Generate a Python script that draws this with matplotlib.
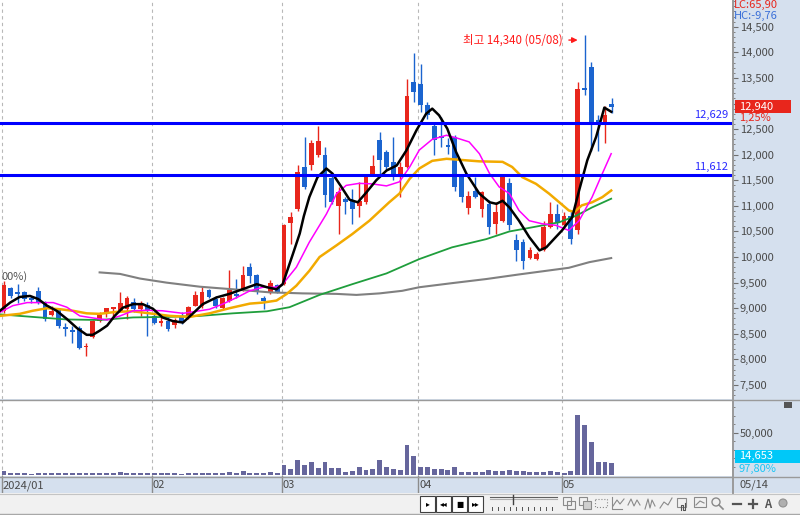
import matplotlib
matplotlib.use('Agg')
import matplotlib.pyplot as plt
import matplotlib.transforms as mtransforms
from matplotlib.patches import Rectangle, Circle
from matplotlib.ticker import FixedLocator, MultipleLocator, FuncFormatter
import numpy as np

plt.rcParams['font.family'] = ['Noto Sans CJK KR', 'DejaVu Sans']

# daily candles 2024-01-02 .. 2024-05-14
month_labels = ['2024/01', '02', '03', '04', '05']
month_days = [22, 19, 20, 21, 8]
last_date = '05/14'

opens = [8950, 9390, 9320, 9310, 9200, 9330, 9110, 8870, 8980, 8640, 8570, 8620, 8240, 8430, 8750, 8890,
         8990, 8950, 8980, 9130, 8980, 9070,
         8850, 8720, 8750, 8680, 8820, 8800, 9050, 9050, 9360, 9180, 9000, 9150, 9270, 9370, 9810, 9640,
         9190, 9300, 9460,
         9470, 10660, 10940, 11760, 11800, 11990, 11990, 11540, 11000, 11140, 11090, 10990, 11070, 11630,
         12280, 12050, 11860, 11560, 11760, 13420,
         13390, 12970, 12570, 12370, 12180, 12350, 11590, 10950, 11300, 10940, 11040, 10650, 10710, 11440,
         10330, 10290, 9990, 9960, 10130, 10580, 10840,
         10630, 10810, 10520, 13300, 13720, 12670, 12640, 13000]
highs = [9540, 9420, 9470, 9340, 9240, 9420, 9150, 9050, 9010, 8720, 8650, 8660, 8330, 8760, 8920, 9000,
         9020, 9310, 9240, 9200, 9140, 9120,
         8920, 8820, 8820, 8800, 8920, 9050, 9330, 9440, 9380, 9240, 9210, 9750, 9570, 9820, 9880, 9660,
         9240, 9560, 9470,
         10640, 10880, 11790, 12340, 12280, 12570, 12150, 11580, 11360, 11170, 11330, 11470, 11600, 11990,
         12440, 12100, 12350, 11860, 13470, 13980,
         13780, 13030, 12640, 12740, 12320, 12380, 11620, 11300, 11560, 11300, 11110, 11070, 11590, 11540,
         10450, 10350, 10190, 10100, 10710, 11070, 11040,
         10880, 10910, 13420, 14340, 13820, 12770, 12950, 13110]
lows = [8900, 9200, 9110, 9150, 9110, 9080, 8750, 8850, 8620, 8460, 8330, 8200, 8060, 8410, 8730, 8820,
        8790, 8920, 8790, 8920, 8850, 8460,
        8690, 8660, 8560, 8610, 8690, 8790, 9040, 9010, 9200, 9010, 8980, 9120, 9200, 9340, 9500, 9270,
        8980, 9280, 9290,
        9460, 10260, 10900, 11330, 11700, 11950, 10970, 11030, 10460, 10850, 10650, 10780, 11040, 11600,
        11630, 11700, 11500, 11180, 11740, 13030,
        12840, 12700, 11990, 12150, 12020, 11300, 11070, 10840, 11150, 10780, 10450, 10450, 10690, 10520,
        9930, 9770, 9970, 9950, 10110, 10560, 10550,
        10610, 10260, 10450, 13160, 12080, 12080, 12220, 12820]
closes = [9460, 9240, 9270, 9180, 9160, 9110, 8790, 8950, 8660, 8590, 8540, 8220, 8260, 8750, 8870, 9000,
          9000, 9110, 9200, 8980, 9080, 8950,
          8720, 8750, 8590, 8770, 8720, 9030, 9260, 9310, 9220, 9050, 9190, 9360, 9240, 9640, 9620, 9310,
          9150, 9490, 9310,
          10630, 10780, 11660, 11370, 12220, 12270, 11210, 11070, 11280, 11070, 10940, 11100, 11560, 11770,
          11890, 11760, 11560, 11760, 13140, 13230,
          12970, 12770, 12280, 12330, 12150, 11370, 11180, 11200, 11170, 11270, 10580, 10880, 11560, 10630,
          10130, 9930, 10130, 10060, 10580, 10840, 10680,
          10810, 10350, 13290, 13260, 12610, 12600, 12780, 12940]
volumes = [4700, 2400, 2300, 2200, 1100, 2300, 2400, 2300, 2200, 2300, 2400, 2300, 2200, 2300, 2400, 2300,
           2200, 3500, 2400, 2300, 2200, 2300,
           2300, 2200, 2300, 2400, 1000, 2300, 2200, 2300, 2400, 2300, 2200, 3500, 2300, 4700, 2900, 2900,
           2300, 3500, 2400,
           11800, 7100, 17700, 11800, 15400, 8300, 15400, 8300, 8300, 3900, 4700, 9500, 5900, 7100, 17700,
           9500, 7100, 5900, 35500, 22500,
           9500, 9500, 7400, 7100, 5900, 9500, 3500, 3500, 3500, 3500, 5900, 5100, 5100, 5900, 5100, 4700,
           3500, 3500, 3900, 4700, 3900,
           2700, 4700, 70900, 59100, 39000, 15700, 14983, 14653]

# moving averages (candle index, price)
ma5_pos = [-0.6, 0.9, 2.3, 3.8, 5.0, 6.3, 7.7, 9.2, 10.7, 12.1, 13.0, 14.0, 15.1, 16.2, 17.4, 18.9, 20.3,
           21.8, 23.2, 24.7, 26.2, 27.6, 29.1, 31.1, 33.0, 34.9, 37.0, 38.5, 39.9, 40.8, 42.3, 43.3, 43.9,
           44.7, 45.9, 47.2, 48.1, 49.4, 50.6, 51.8, 53.1, 54.5, 56.0, 57.5, 58.9, 60.4, 61.8, 62.7, 63.7,
           64.9, 66.2, 67.7, 69.6, 71.1, 72.1, 73.0, 74.0, 75.4, 76.9, 78.4, 79.4, 80.3, 81.7, 83.2, 84.2,
           85.4, 86.7, 87.9, 88.9]
ma5_val = [8950, 9110, 9220, 9240, 9180, 9050, 8950, 8790, 8610, 8480, 8480, 8560, 8660, 8850, 9010, 9080,
           9080, 8990, 8820, 8750, 8720, 8890, 9080, 9210, 9280, 9370, 9470, 9410, 9370, 9470, 10060, 10460,
           10800, 11170, 11560, 11730, 11630, 11370, 11120, 11070, 11270, 11500, 11690, 11790, 12080, 12480,
           12800, 12900, 12770, 12510, 12050, 11630, 11240, 11070, 11040, 11100, 10970, 10710, 10390, 10130,
           10190, 10320, 10520, 10780, 11300, 11890, 12350, 12920, 12840]
ma10_pos = [-0.6, 1.3, 3.4, 5.3, 7.2, 9.2, 11.1, 13.0, 15.1, 17.0, 18.9, 20.9, 23.2, 26.2, 28.2, 30.1,
            32.0, 34.1, 36.0, 37.9, 39.9, 40.8, 42.8, 44.7, 47.2, 48.7, 50.1, 52.0, 53.9, 56.0, 57.9, 59.4,
            60.8, 62.7, 64.8, 66.2, 68.1, 69.6, 71.1, 72.5, 74.0, 75.4, 76.9, 78.8, 80.8, 82.7, 84.2, 86.1,
            87.6, 88.9]
ma10_val = [8920, 9050, 9110, 9110, 9110, 9020, 8850, 8810, 8770, 8850, 8950, 8960, 8950, 8900, 8940, 8980,
            9080, 9210, 9340, 9410, 9410, 9470, 9800, 10290, 10840, 11240, 11400, 11440, 11430, 11390, 11470,
            11760, 12090, 12300, 12380, 12330, 12250, 12020, 11630, 11370, 11240, 10910, 10710, 10650, 10620,
            10520, 10710, 11170, 11630, 12020]
ma20_pos = [-0.6, 2.3, 4.2, 6.3, 8.2, 10.1, 12.1, 14.0, 16.5, 18.9, 21.3, 24.3, 27.2, 30.1, 33.0, 36.0,
            37.9, 39.9, 41.4, 42.8, 44.7, 46.2, 48.7, 51.0, 53.5, 56.4, 57.9, 59.4, 60.8, 62.7, 64.8, 66.7,
            69.6, 73.0, 74.4, 75.9, 77.9, 79.8, 81.3, 82.7, 83.5, 84.6, 86.1, 87.6, 88.9]
ma20_val = [8850, 8890, 8950, 9000, 8980, 8950, 8900, 8890, 8930, 8940, 8900, 8850, 8830, 8900, 9000, 9090,
            9110, 9150, 9280, 9440, 9730, 10000, 10230, 10450, 10710, 11070, 11240, 11530, 11730, 11880,
            11920, 11900, 11870, 11860, 11760, 11560, 11430, 11240, 11070, 10910, 10880, 11010, 11070,
            11170, 11300]
ma60_pos = [-0.6, 4.2, 9.2, 14.0, 18.9, 23.8, 28.7, 33.5, 38.5, 41.8, 46.2, 51.0, 56.0, 60.8, 65.6, 70.6,
            74.0, 76.9, 81.3, 83.8, 86.1, 88.9]
ma60_val = [8880, 8830, 8780, 8770, 8820, 8830, 8850, 8900, 8940, 9020, 9260, 9470, 9680, 9960, 10190,
            10350, 10500, 10570, 10680, 10810, 10970, 11140]
ma120_pos = [14.0, 17.0, 19.9, 23.8, 28.7, 33.5, 38.9, 43.7, 48.7, 51.6, 55.0, 58.3, 60.8, 65.6, 70.6,
             75.4, 82.7, 85.7, 88.9]
ma120_val = [9700, 9670, 9580, 9500, 9420, 9370, 9310, 9290, 9280, 9260, 9290, 9340, 9410, 9490, 9570,
             9660, 9790, 9900, 9980]

levels = [12629, 11612]
lc_text = 'LC:65,90'

W, H = 800, 515
fig = plt.figure(figsize=(8, 5.15), dpi=100)
fig.patch.set_facecolor('#d5e0ee')


def px_axes(x0, y0, x1, y1):
    return fig.add_axes([x0 / W, 1 - y1 / H, (x1 - x0) / W, (y1 - y0) / H])


RED = '#e8261c'
BLUE = '#1b64cf'
STEP = 6.83
XMIN = -4 / STEP
XMAX = XMIN + 732 / STEP

n = len(closes)
idx = np.arange(n)
o = np.array(opens)
c = np.array(closes)
cols = [RED if c[i] >= o[i] else BLUE for i in range(n)]
month_starts = np.cumsum([0] + month_days[:-1])
month_lines = month_starts - 0.35
last = closes[-1]

# ---- price panel
ax = px_axes(0, 0, 732, 399)
ax.set_facecolor('white')
ax.set_xlim(XMIN, XMAX)
ax.set_ylim(7226, 15023)
for s in ax.spines.values():
    s.set_visible(False)
ax.set_xticks([])
ax.yaxis.tick_right()
ax.yaxis.set_major_locator(FixedLocator(range(7500, 15000, 500)))
ax.yaxis.set_minor_locator(MultipleLocator(100))
# the label under the current-price box is hidden, as on the terminal
ax.yaxis.set_major_formatter(FuncFormatter(lambda v, p: '' if abs(v - last) < 200 else f'{int(v):,}'))
ax.tick_params(axis='y', which='major', direction='out', length=4.5, width=0.8, color='#707070',
               labelsize=8, labelcolor='#4a4a4a', pad=1)
ax.tick_params(axis='y', which='minor', direction='out', length=2.2, width=0.7, color='#808080')

for m in month_lines:
    ax.axvline(m, color='#b8b8b8', lw=0.8, ls=(0, (3, 3)), zorder=0)

body_lo = np.minimum(o, c)
body_h = np.maximum(np.abs(c - o), 25)
ax.vlines(idx, lows, highs, colors=cols, lw=1.0, zorder=2)
ax.bar(idx, body_h, bottom=body_lo, width=0.7, color=cols, lw=0, zorder=2)

ax.plot(ma120_pos, ma120_val, color='#808080', lw=1.5, zorder=3)
ax.plot(ma60_pos, ma60_val, color='#1f9e3c', lw=1.3, zorder=3)
ax.plot(ma20_pos, ma20_val, color='#f2aa00', lw=1.8, zorder=3)
ax.plot(ma10_pos, ma10_val, color='#ff00ff', lw=1.1, zorder=3)
ax.plot(ma5_pos, ma5_val, color='black', lw=1.8, zorder=3)

for lv in levels:
    ax.axhline(lv, color='#0000ff', lw=2.2, zorder=4)
    ax.annotate(f'{lv:,}', xy=(0.995, lv), xycoords=('axes fraction', 'data'), xytext=(0, 8),
                textcoords='offset pixels', ha='right', va='center', fontsize=8, color='#2a2aff')

ax.text(0.002, 9620, '00%)', transform=mtransforms.blended_transform_factory(ax.transAxes, ax.transData),
        fontsize=8, color='#555555', va='center', ha='left')

hi = int(np.argmax(highs))
ax.annotate('', xy=(hi - 0.6, highs[hi] - 100), xytext=(hi - 2.7, highs[hi] - 100),
            arrowprops=dict(arrowstyle='-|>', color='#ff1a1a', lw=1.0, mutation_scale=8))
ax.text(hi - 3.2, highs[hi] - 100, f'최고 {highs[hi]:,} ({month_labels[-1]}/08)', color='#ff1a1a',
        fontsize=8.3, ha='right', va='center')

blend = mtransforms.blended_transform_factory(ax.transAxes, ax.transData)
ax.add_patch(Rectangle((1.004, last - 127), 0.077, 254, transform=blend, clip_on=False,
                       fc=RED, ec='none', zorder=6))
ax.text(1.009, last, f'{last:,}', transform=blend, color='white', fontsize=8, va='center',
        ha='left', zorder=7, clip_on=False)
chg = (closes[-1] / closes[-2] - 1) * 100
ax.annotate(f'{chg:.2f}%'.replace('.', ','), xy=(1.009, last), xycoords=blend, xytext=(0, -11),
            textcoords='offset pixels', color=RED, fontsize=8, va='center', ha='left', zorder=7,
            annotation_clip=False)
hc = (closes[-1] / max(highs) - 1) * 100
ax.text(1.002, 1.0, lc_text, transform=ax.transAxes, color=RED, fontsize=8, va='top', ha='left',
        clip_on=False, zorder=7)
ax.text(1.002, 0.972, f'HC:{hc:.2f}'.replace('.', ','), transform=ax.transAxes, color='#3a6fd8',
        fontsize=8, va='top', ha='left', clip_on=False, zorder=7)

# ---- volume panel
axv = px_axes(0, 400, 732, 476)
axv.set_facecolor('white')
axv.set_xlim(XMIN, XMAX)
axv.set_ylim(-1200, 88700)
for s in axv.spines.values():
    s.set_visible(False)
axv.set_xticks([])
axv.yaxis.tick_right()
axv.yaxis.set_major_locator(FixedLocator([50000]))
axv.yaxis.set_minor_locator(FixedLocator([10000, 20000, 30000, 40000, 60000, 70000, 80000]))
axv.yaxis.set_major_formatter(FuncFormatter(lambda v, p: f'{int(v):,}'))
axv.tick_params(axis='y', which='major', direction='out', length=4.5, width=0.8, color='#707070',
                labelsize=8, labelcolor='#4a4a4a', pad=1)
axv.tick_params(axis='y', which='minor', direction='out', length=2.2, width=0.7, color='#808080')
for m in month_lines:
    axv.axvline(m, color='#b8b8b8', lw=0.8, ls=(0, (3, 3)), zorder=0)
axv.bar(idx, volumes, width=0.72, color='#66669c', lw=0, zorder=2)

vblend = mtransforms.blended_transform_factory(axv.transAxes, axv.transData)
lastv = volumes[-1]
axv.add_patch(Rectangle((1.004, lastv), 0.09, 15000, transform=vblend, clip_on=False,
                        fc='#00c8f8', ec='none', zorder=6))
axv.annotate(f'{lastv:,}', xy=(1.009, lastv), xycoords=vblend, xytext=(0, 6.5),
             textcoords='offset pixels', color='white', fontsize=8, va='center', ha='left', zorder=7,
             annotation_clip=False)
vchg = volumes[-1] / volumes[-2] * 100
axv.annotate(f'{vchg:.2f}%'.replace('.', ','), xy=(1.009, lastv), xycoords=vblend, xytext=(0, -6),
             textcoords='offset pixels', color='#19c6f5', fontsize=8, va='center', ha='left', zorder=7,
             annotation_clip=False)

# ---- date bar
axd = px_axes(0, 476, 732, 493)
axd.set_xlim(XMIN, XMAX)
axd.set_ylim(0, 1)
axd.axis('off')
for m, lab in zip(month_lines, month_labels):
    axd.axvline(m, color='#8c8c8c', lw=1.0)
    axd.text(m + 0.15, 0.45, lab, fontsize=8, color='#4a4a4a', va='center', ha='left')

# ---- chrome overlay (pixel coordinates)
ov = fig.add_axes([0, 0, 1, 1], zorder=10)
ov.set_xlim(0, W)
ov.set_ylim(H, 0)
ov.axis('off')
ov.patch.set_alpha(0)
ov.plot([0, W], [399.5, 399.5], color='#9a9a9a', lw=1.0)
ov.plot([0, W], [476.5, 476.5], color='#9a9a9a', lw=1.0)
ov.plot([732.5, 732.5], [0, 493], color='#9a9a9a', lw=1.4)
ov.text(740, 485, last_date, fontsize=8, color='#4a4a4a', va='center', ha='left')
ov.add_patch(Rectangle((784, 402), 8, 6, fc='#555555', ec='none'))

ov.add_patch(Rectangle((0, 493), W, 22, fc='#f1f1f1', ec='none'))
ov.plot([0, W], [493.5, 493.5], color='#c4c4c4', lw=0.8)
ov.plot([0, W], [514, 514], color='#a8a8a8', lw=1.0)
for bx, sym in zip([420, 436, 452, 468], ['▸', '◂◂', '■', '▸▸']):
    ov.add_patch(Rectangle((bx, 496), 15, 16, fc='white', ec='#404040', lw=0.8))
    ov.text(bx + 7.5, 504, sym, fontsize=5.5, ha='center', va='center', color='black',
            family='DejaVu Sans')
ov.plot([490, 557], [497, 497], color='#606060', lw=0.8)
ov.plot([490, 557], [499, 499], color='#b0b0b0', lw=0.8)
ov.plot([513, 513], [495, 504], color='#404040', lw=1.0)
for tx in range(492, 558, 6):
    ov.plot([tx, tx], [507, 510], color='#505050', lw=0.7)
ig = '#8a8a8a'
ov.add_patch(Rectangle((563, 497), 8, 8, fc='none', ec=ig, lw=0.8))
ov.add_patch(Rectangle((567, 501), 8, 8, fc='none', ec=ig, lw=0.8))
ov.add_patch(Rectangle((579, 497), 8, 8, fc='none', ec=ig, lw=0.8))
ov.add_patch(Rectangle((583, 501), 8, 8, fc='#cfcfcf', ec=ig, lw=0.8))
ov.add_patch(Rectangle((595, 499), 12, 8, fc='none', ec=ig, lw=0.8, ls=':'))
ov.plot([612, 612, 622], [497, 509, 509], color=ig, lw=0.8)
ov.plot([613, 617, 620, 624], [506, 500, 504, 499], color=ig, lw=0.8)
ov.plot([628, 631, 634, 637, 640], [505, 499, 506, 500, 505], color=ig, lw=0.8)
ov.plot([645, 648, 650, 652, 655], [509, 499, 508, 500, 506], color=ig, lw=0.8)
ov.plot([660, 664, 668, 672], [508, 502, 505, 498], color=ig, lw=0.8)
ov.add_patch(Rectangle((677, 498), 9, 9, fc='none', ec=ig, lw=0.8))
ov.plot([681, 681, 683, 683, 685, 685], [510, 505, 505, 510, 510, 503], color='#555555', lw=0.8)
ov.add_patch(Rectangle((694, 497), 12, 10, fc='none', ec=ig, lw=0.8))
ov.plot([696, 700, 704], [505, 501, 503], color=ig, lw=0.8)
ov.add_patch(Circle((716, 502), 4, fc='none', ec=ig, lw=1.0))
ov.plot([719, 723], [505, 509], color=ig, lw=1.2)
ov.plot([733, 741], [504, 504], color='#555555', lw=1.6)
ov.plot([749, 757], [504, 504], color='#555555', lw=1.6)
ov.plot([753, 753], [500, 508], color='#555555', lw=1.6)
ov.text(768, 504, 'A', fontsize=8, fontweight='bold', color='#555555', ha='center', va='center')
ov.add_patch(Circle((783, 503), 4, fc='#b0b0b0', ec='#909090', lw=0.8))

fig.savefig('out.png', dpi=100)
